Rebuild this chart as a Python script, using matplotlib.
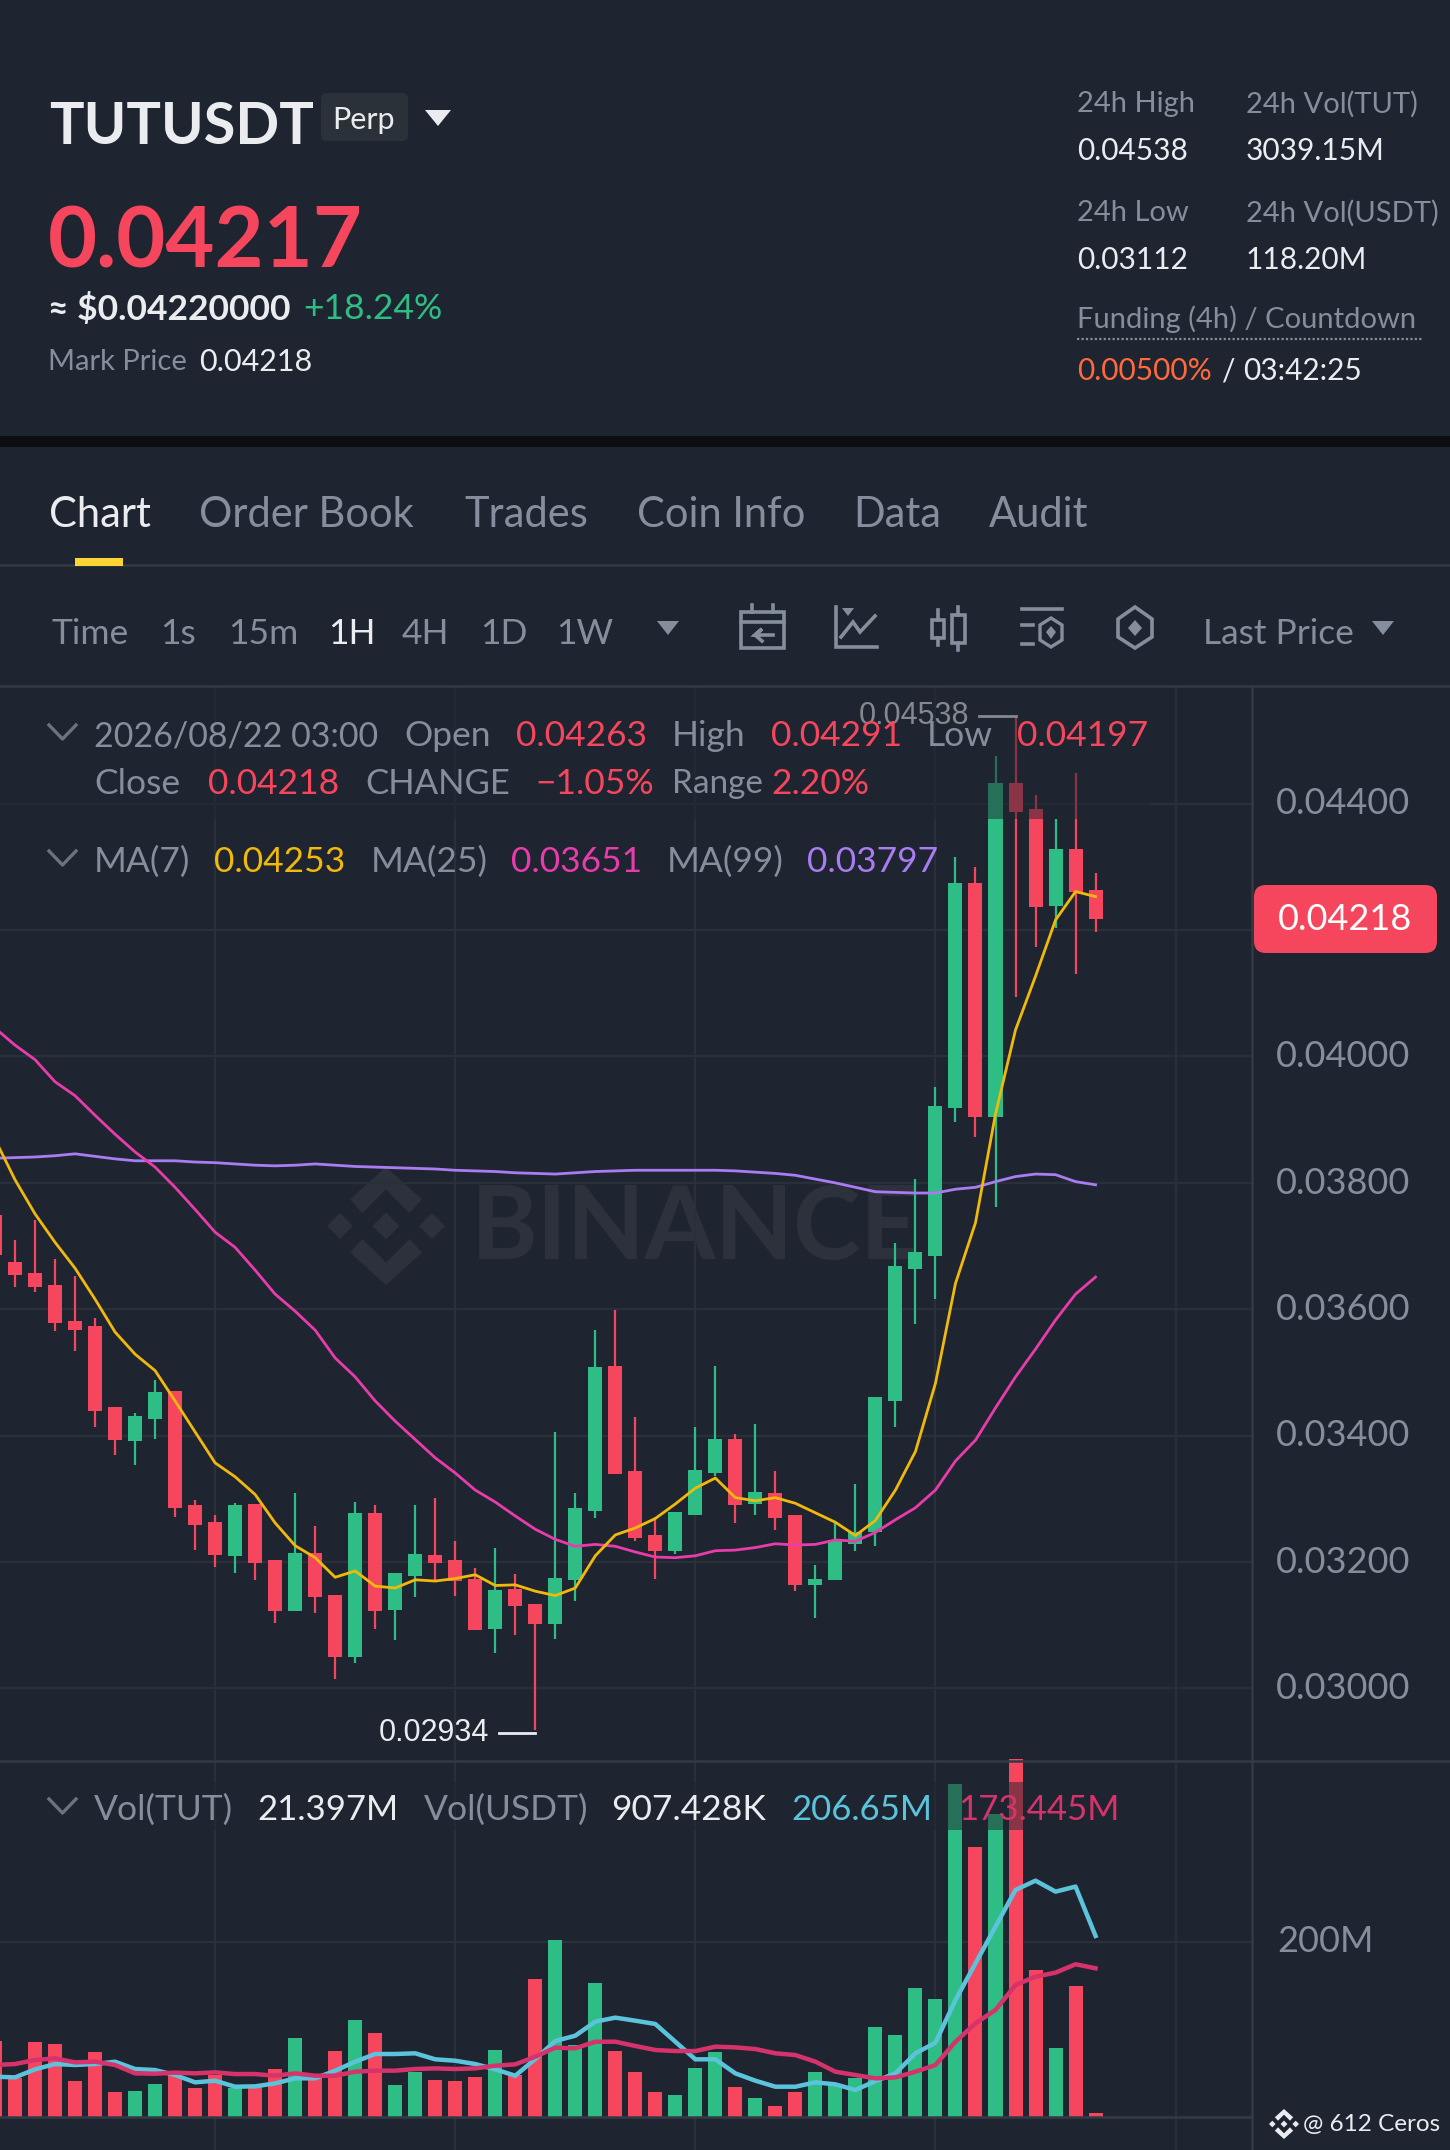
import matplotlib
matplotlib.use("Agg")
import matplotlib.pyplot as plt
from matplotlib.patches import FancyBboxPatch, Polygon, Rectangle
from matplotlib.transforms import ScaledTranslation
import numpy as np

plt.rcParams['font.family'] = ['Lato', 'DejaVu Sans']

BG = '#1f2530'
GRID = '#2a303a'
LINE = '#343a45'
GRAY = '#848e9c'
WHITE = '#eaecef'
RED = '#f6465d'
GREEN = '#2ebd85'
YELLOW = '#f0b90b'
PINK = '#e93cac'
PURPLE = '#a97cf2'
BLUE = '#5bc4dc'
CRIMSON = '#d6336c'

# hourly candles, the first one is cut by the left edge
opens = [.03750, .03675, .03658, .03638, .03582, .03573, .03445, .03392, .03426, .03470, .03291, .03263, .03210, .03292,
         .03203, .03122, .03214, .03148, .03050, .03277, .03124, .03178, .03212, .03203, .03174, .03094, .03157, .03134,
         .03102, .03172, .03281, .03510, .03344, .03243, .03217, .03274, .03341, .03394, .03292, .03310, .03274, .03164,
         .03171, .03229, .03248, .03455, .03663, .03685, .03918, .04275, .03904, .04433, .04391, .04238, .04328, .04263]
highs = [.03790, .03710, .03741, .03679, .03653, .03587, .03445, .03436, .03488, .03470, .03298, .03275, .03293, .03292,
         .03203, .03309, .03257, .03148, .03295, .03291, .03183, .03291, .03302, .03233, .03190, .03222, .03181, .03134,
         .03406, .03309, .03568, .03599, .03429, .03272, .03279, .03413, .03510, .03402, .03419, .03344, .03275, .03195,
         .03262, .03323, .03461, .03705, .03806, .03951, .04316, .04300, .04476, .04538, .04414, .04376, .04449, .04291]
lows = [.03660, .03635, .03627, .03566, .03534, .03413, .03370, .03354, .03395, .03271, .03219, .03192, .03182, .03171,
        .03104, .03122, .03119, .03015, .03040, .03094, .03077, .03144, .03171, .03147, .03093, .03056, .03084, .02934,
        .03079, .03139, .03270, .03339, .03233, .03174, .03213, .03274, .03337, .03262, .03275, .03250, .03154, .03111,
        .03171, .03217, .03225, .03413, .03577, .03617, .03897, .03873, .03762, .04094, .04173, .04203, .04131, .04197]
closes = [.03686, .03654, .03635, .03578, .03568, .03439, .03393, .03431, .03469, .03286, .03259, .03211, .03291, .03199,
          .03123, .03214, .03144, .03050, .03277, .03122, .03183, .03213, .03199, .03170, .03093, .03156, .03131, .03102,
          .03175, .03285, .03509, .03339, .03238, .03217, .03279, .03346, .03395, .03291, .03311, .03270, .03164, .03174,
          .03235, .03248, .03461, .03668, .03691, .03922, .04275, .03904, .04433, .04387, .04237, .04328, .04260, .04218]

ma7 = [.03869, .03805, .03751, .03706, .03665, .03616, .03564, .03529, .03503, .03455, .03406, .03357, .03335, .03307,
       .03262, .03226, .03207, .03176, .03186, .03162, .03159, .03172, .03170, .03174, .03180, .03163, .03164, .03154,
       .03147, .03159, .03210, .03243, .03254, .03269, .03292, .03317, .03333, .03302, .03297, .03302, .03293, .03278,
       .03263, .03242, .03266, .03314, .03375, .03483, .03641, .03737, .03909, .04042, .04127, .04216, .04261, .04253]
ma25 = [.04045, .04018, .03995, .03960, .03938, .03907, .03877, .03849, .03825, .03793, .03758, .03722, .03698, .03662,
        .03624, .03597, .03567, .03523, .03493, .03455, .03423, .03394, .03365, .03341, .03314, .03295, .03273, .03252,
        .03236, .03225, .03228, .03225, .03216, .03208, .03207, .03210, .03218, .03219, .03223, .03229, .03227, .03228,
        .03235, .03233, .03247, .03267, .03286, .03314, .03360, .03393, .03444, .03493, .03537, .03583, .03624, .03651]
ma99 = [.03839, .03840, .03841, .03843, .03846, .03842, .03838, .03835, .03835, .03835, .03833, .03832, .03830, .03828,
        .03827, .03828, .03830, .03828, .03826, .03825, .03824, .03823, .03822, .03820, .03819, .03818, .03816, .03815,
        .03814, .03816, .03818, .03819, .03820, .03820, .03820, .03820, .03820, .03819, .03817, .03815, .03812, .03806,
        .03800, .03793, .03786, .03785, .03784, .03784, .03790, .03793, .03802, .03810, .03814, .03813, .03802, .03797]

volumes = [86.8, 44.0, 85.7, 83.0, 40.9, 73.8, 27.9, 29.1, 37.1, 47.8, 32.5, 47.8, 32.5, 34.4,
           54.7, 89.9, 44.0, 75.7, 110.5, 95.6, 35.9, 51.6, 42.1, 40.9, 45.1, 76.5, 47.8, 157.5,
           202.3, 82.2, 153.0, 75.3, 50.9, 27.9, 24.5, 55.4, 74.6, 33.7, 21.0, 12.2, 28.3, 51.6,
           36.3, 44.0, 103.2, 93.3, 147.2, 134.6, 381.6, 309.0, 347.2, 409.9, 168.3, 78.4, 149.9, 3.8]
vol_ma5 = [45.9, 45.1, 54.3, 60.4, 59.3, 60.4, 63.1, 54.7, 53.5, 47.8, 39.4, 41.3, 34.4, 34.8,
           38.2, 44.0, 44.0, 52.8, 63.1, 71.9, 71.9, 72.7, 65.8, 64.2, 60.4, 54.3, 47.0, 66.2,
           86.8, 92.9, 109.0, 113.6, 110.1, 106.3, 86.0, 65.8, 65.8, 49.7, 41.3, 34.4, 34.4, 39.4,
           37.1, 30.6, 40.9, 49.7, 72.7, 84.9, 133.8, 175.9, 218.0, 260.0, 270.7, 258.1, 263.9, 207.3]
vol_ma10 = [59.3, 60.4, 65.0, 66.9, 62.3, 63.1, 59.3, 49.7, 49.3, 50.5, 49.7, 50.9, 48.9, 48.9,
            47.0, 49.7, 47.0, 47.0, 51.6, 52.8, 52.8, 54.7, 55.4, 54.7, 55.4, 58.5, 60.0, 68.8,
            79.2, 78.4, 86.0, 86.0, 81.1, 76.5, 75.3, 75.3, 80.3, 79.5, 77.6, 72.7, 70.7, 63.1,
            51.6, 47.8, 44.0, 45.1, 51.6, 59.3, 86.0, 107.1, 122.4, 151.0, 160.6, 165.2, 174.8, 170.2]

price_ticks = [.030, .032, .034, .036, .038, .040, .042, .044]
price_labels = ['0.03000', '0.03200', '0.03400', '0.03600', '0.03800', '0.04000', '', '0.04400']
grid_candles = [11, 23, 35, 47, 59]

W, H = 1450, 2150
fig = plt.figure(figsize=(W / 100, H / 100), dpi=100, facecolor=BG)


def px_axes(zorder):
    ax = fig.add_axes([0, 0, 1, 1], zorder=zorder)
    ax.set_xlim(0, W)
    ax.set_ylim(H, 0)
    ax.axis('off')
    ax.patch.set_alpha(0)
    return ax


def label(x, y, s, color=GRAY, size=25.5, **kw):
    kw.setdefault('va', 'center')
    ui.text(x, y + 3, s, color=color, fontsize=size, **kw)


def binance_logo(ax, cx, cy, r, color, zorder=1):
    for dx, d in [(0, .23), (-.78, .22), (.78, .22)]:
        ax.add_patch(Polygon([(cx + (dx - d) * r, cy), (cx + dx * r, cy - d * r), (cx + (dx + d) * r, cy),
                              (cx + dx * r, cy + d * r)], color=color, lw=0, zorder=zorder))
    for s in (1, -1):
        pts = [(-.61, .45), (0, 1), (.61, .45), (.40, .22), (0, .62), (-.40, .22)]
        ax.add_patch(Polygon([(cx + a * r, cy - s * b * r) for a, b in pts], color=color, lw=0, zorder=zorder))


def chevron(y):
    ui.plot([49, 62.5, 76], [y - 7, y + 7, y - 7], color='#6b7380', lw=2.4, zorder=4)


def tri(x, y, w, h, color):
    ui.add_patch(Polygon([(x - w, y - h), (x + w, y - h), (x, y + h)], color=color, lw=0, zorder=4))


bg = px_axes(0)
binance_logo(bg, 386, 1226, 59, '#2c313c')
bg.text(471, 1230, 'BINANCE', color='#2c313c', fontsize=73, fontweight='bold', va='center')

pos = np.arange(len(opens))
x_left = 5 / 20.01
x_right = (1252 + 5) / 20.01

# price panel
ax = fig.add_axes([0, (H - 1762) / H, 1252 / W, (1762 - 686) / H], zorder=1)
ax.patch.set_alpha(0)
ax.set_xlim(x_left, x_right)
ax.set_ylim(.038 - (1762 - 1182.9) / 63200, .038 + (1182.9 - 686) / 63200)
for s in ax.spines.values():
    s.set_visible(False)
ax.yaxis.tick_right()
ax.set_yticks(price_ticks)
ax.set_yticklabels(price_labels, color=GRAY, fontsize=26)
ax.tick_params(axis='y', length=0, pad=17)
for t in ax.get_yticklabels():
    t.set_transform(t.get_transform() + ScaledTranslation(0, 2 / 72, fig.dpi_scale_trans))
ax.set_xticks(grid_candles)
ax.tick_params(axis='x', length=0, labelbottom=False)
ax.grid(True, color=GRID, lw=1.6)
ax.set_axisbelow(True)

o = np.array(opens)
c = np.array(closes)
colors = [GREEN if b >= a else RED for a, b in zip(opens, closes)]
ax.vlines(pos, lows, highs, colors=colors, lw=1.6, zorder=2)
ax.bar(pos, np.abs(c - o), bottom=np.minimum(o, c), width=0.7, color=colors, zorder=3)
ax.plot(pos, ma99, color=PURPLE, lw=2, zorder=4)
ax.plot(pos, ma25, color=PINK, lw=2, zorder=4)
ax.plot(pos, ma7, color=YELLOW, lw=2, zorder=5)

hi = int(np.argmax(highs))
lo = int(np.argmin(lows))
ax.plot([hi - 1.8, hi], [highs[hi], highs[hi]], color=WHITE, lw=2, zorder=5)
ax.text(hi - 2.3, highs[hi], '0.04538', color=WHITE, fontsize=22, family='Liberation Sans', ha='right', va='center', zorder=5)
ax.plot([lo - 1.8, lo], [lows[lo] - .00004, lows[lo] - .00004], color=WHITE, lw=2, zorder=5)
ax.text(lo - 2.3, lows[lo] - .00004, '0.02934', color=WHITE, fontsize=22, family='Liberation Sans', ha='right', va='center', zorder=5)

# volume panel
vol_px = 174.4 / 200
vax = fig.add_axes([0, 0, 1252 / W, (H - 1761) / H], zorder=1)
vax.patch.set_alpha(0)
vax.set_xlim(x_left, x_right)
vax.set_ylim(-(H - 2116.7) / vol_px, (2116.7 - 1761) / vol_px)
for s in vax.spines.values():
    s.set_visible(False)
vax.set_yticks([0, 200])
vax.set_xticks(grid_candles)
vax.tick_params(length=0, labelbottom=False, labelleft=False)
vax.grid(True, color=GRID, lw=1.6)
vax.set_axisbelow(True)
vax.bar(pos, volumes, width=0.7, color=colors, zorder=3, clip_on=False)
vax.plot(pos, vol_ma5, color=BLUE, lw=3.2, zorder=4)
vax.plot(pos, vol_ma10, color=CRIMSON, lw=3.2, zorder=5)

# everything that sits on top of the panels
ui = px_axes(5)
ui.add_patch(Rectangle((0, 0), W, 566, color=BG, lw=0, zorder=0))
ui.add_patch(Rectangle((0, 436), W, 11, color='#0c0e12', lw=0, zorder=1))
ui.add_patch(Rectangle((0, 688), 1150, 131, color=BG, alpha=.5, lw=0, zorder=1))
ui.add_patch(Rectangle((0, 1782), 1120, 48, color=BG, alpha=.5, lw=0, zorder=1))
for y in (565, 686, 1761):
    ui.plot([0, W], [y, y], color=LINE, lw=1.8, zorder=2)
ui.plot([0, 1252], [2117, 2117], color=LINE, lw=1.8, zorder=2)
ui.plot([1252, 1252], [686, H], color=LINE, lw=1.8, zorder=2)

# header
label(49, 125, 'TUTUSDT', WHITE, 41.5, fontweight='bold')
ui.add_patch(FancyBboxPatch((321, 93), 87, 48, boxstyle='round,pad=0,rounding_size=6', color='#2b3139', lw=0, zorder=2))
label(364, 117, 'Perp', WHITE, 22, ha='center')
tri(438, 118, 13, 8, WHITE)
label(48, 240, '0.04217', RED, 61, fontweight='bold')
label(48, 306, '≈ $0.04220000', WHITE, 25.5, fontweight='bold')
label(303, 306, '+18.24%', GREEN, 25.5)
label(48, 359, 'Mark Price', GRAY, 21)
label(199, 359, '0.04218', WHITE, 22)

label(1077, 101, '24h High', GRAY, 21)
label(1246, 101, '24h Vol(TUT)', GRAY, 21)
label(1077, 148, '0.04538', WHITE, 21.5)
label(1246, 148, '3039.15M', WHITE, 21.5)
label(1077, 210, '24h Low', GRAY, 21)
label(1246, 210, '24h Vol(USDT)', GRAY, 21)
label(1077, 257, '0.03112', WHITE, 21.5)
label(1246, 257, '118.20M', WHITE, 21.5)
label(1077, 316, 'Funding (4h) / Countdown', GRAY, 21)
ui.plot([1077, 1423], [339, 339], color=GRAY, lw=1.6, ls=(0, (1, 1)), zorder=2)
label(1077, 368, '0.00500%', '#ff6a3d', 21.5)
label(1222, 368, '/', WHITE, 21.5)
label(1243, 368, '03:42:25', WHITE, 21.5)

# tabs
label(49, 512, 'Chart', WHITE, 30)
for x, s in [(199, 'Order Book'), (464, 'Trades'), (637, 'Coin Info'), (853, 'Data'), (989, 'Audit')]:
    label(x, 512, s, GRAY, 30)
ui.add_patch(Rectangle((75, 558), 48, 8, color='#fcd535', lw=0, zorder=3))

# interval row
for x, s in [(52, 'Time'), (160, '1s'), (228, '15m'), (402, '4H'), (480, '1D'), (556, '1W'), (1203, 'Last Price')]:
    label(x, 631, s, GRAY, 25.5)
label(328, 631, '1H', WHITE, 25.5)
tri(668, 628, 11, 7, GRAY)
tri(1383, 628, 11, 7, GRAY)

ICON = dict(color=GRAY, lw=2.6, zorder=3, solid_joinstyle='miter')
# calendar
ui.add_patch(Rectangle((741, 612), 43, 36, fill=False, ec=GRAY, lw=2.6, zorder=3))
ui.plot([741, 784], [622, 622], **ICON)
ui.plot([752, 752], [605, 612], **ICON)
ui.plot([773, 773], [605, 612], **ICON)
ui.plot([773, 755, 762, 755, 762], [635, 635, 629, 635, 641], **ICON)
# line chart
ui.plot([836, 836, 877], [607, 647, 647], **ICON)
ui.plot([841, 853, 860, 875], [637, 622, 632, 616], **ICON)
tri(848, 612, 6, 4, GRAY)
# candles
ui.add_patch(Rectangle((932, 620), 12, 18, fill=False, ec=GRAY, lw=2.6, zorder=3))
ui.add_patch(Rectangle((952, 615), 13, 28, fill=False, ec=GRAY, lw=2.6, zorder=3))
ui.plot([938, 938], [610, 620], **ICON)
ui.plot([938, 938], [638, 645], **ICON)
ui.plot([958, 958], [607, 615], **ICON)
ui.plot([958, 958], [643, 650], **ICON)
# indicator list
ui.plot([1022, 1062], [609, 609], **ICON)
ui.plot([1022, 1033], [625, 625], **ICON)
ui.plot([1022, 1033], [644, 644], **ICON)
ui.add_patch(Polygon([(1051, 618), (1062, 625), (1062, 640), (1051, 647), (1040, 640), (1040, 625)], fill=False, ec=GRAY, lw=2.4, zorder=3))
ui.add_patch(Polygon([(1051, 626), (1056, 632), (1051, 639), (1046, 632)], color=GRAY, lw=0, zorder=3))
# depth/hexagon
ui.add_patch(Polygon([(1135, 607), (1152, 619), (1152, 637), (1135, 648), (1118, 637), (1118, 619)], fill=False, ec=GRAY, lw=2.6, zorder=3))
ui.add_patch(Polygon([(1135, 620), (1142, 628), (1135, 636), (1128, 628)], color=GRAY, lw=0, zorder=3))

# chart legend rows
chevron(732)
label(94, 733, '2026/08/22 03:00', size=24.5)
label(404, 733, 'Open')
label(516, 733, '0.04263', RED)
label(672, 733, 'High')
label(771, 733, '0.04291', RED)
label(927, 733, 'Low')
label(1017, 733, '0.04197', RED)
label(94, 781, 'Close')
label(208, 781, '0.04218', RED)
label(365, 781, 'CHANGE', size=25)
label(535, 781, '−1.05%', RED)
label(672, 781, 'Range', size=24)
label(771, 781, '2.20%', RED)
chevron(858)
label(94, 859, 'MA(7)')
label(214, 859, '0.04253', YELLOW)
label(371, 859, 'MA(25)')
label(511, 859, '0.03651', PINK)
label(667, 859, 'MA(99)')
label(807, 859, '0.03797', PURPLE)

ui.add_patch(FancyBboxPatch((1254, 885), 183, 68, boxstyle='round,pad=0,rounding_size=12', color=RED, lw=0, zorder=3))
label(1345, 917, '0.04218', 'white', 26, ha='center', zorder=4)

# volume legend
chevron(1806)
label(94, 1807, 'Vol(TUT)')
label(257, 1807, '21.397M', WHITE, 25)
label(424, 1807, 'Vol(USDT)')
label(611, 1807, '907.428K', WHITE)
label(791, 1807, '206.65M', BLUE, 25)
label(958, 1807, '173.445M', CRIMSON, 25)
label(1277, 1939, '200M', GRAY, 26)

binance_logo(ui, 1284, 2124, 15, WHITE, zorder=4)
label(1303, 2122, '@ 612 Ceros', WHITE, 17.5)

fig.savefig('out.png', dpi=100, facecolor=BG)
